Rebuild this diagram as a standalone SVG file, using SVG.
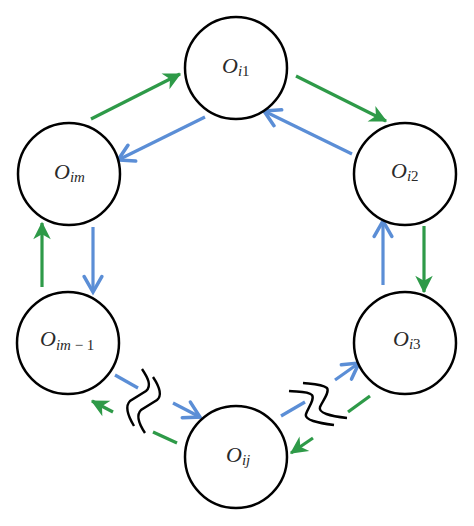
<svg xmlns="http://www.w3.org/2000/svg" width="474" height="526" viewBox="0 0 474 526">
<style>
.node{fill:#fff;stroke:#000;stroke-width:2.5}
.lbl{font-family:"Liberation Serif","DejaVu Serif",serif;font-size:22px;fill:#2a2a2a;font-style:italic}
.sub{font-size:15px}
.up{font-style:normal}
.g{stroke:#2e9a48;stroke-width:3.2;fill:none}
.b{stroke:#5b8ed6;stroke-width:3.2;fill:none}
.brk{stroke:#000;stroke-width:2.4;fill:none}
</style>
<defs>
<marker id="gh" markerUnits="userSpaceOnUse" markerWidth="20" markerHeight="20" viewBox="-14 -8 16 16" refX="0" refY="0" orient="auto">
<path d="M1,0 L-13,-7 L-9,0 L-13,7 Z" fill="#2e9a48"/>
</marker>
<marker id="bh" markerUnits="userSpaceOnUse" markerWidth="22" markerHeight="22" viewBox="-16 -10 20 20" refX="0" refY="0" orient="auto">
<path d="M-14,-8 L0,0 L-14,8" fill="none" stroke="#5b8ed6" stroke-width="3.2" stroke-linecap="round"/>
</marker>
</defs>
<g id="connectors">
<line class="g" x1="91" y1="119" x2="180" y2="74" marker-end="url(#gh)"/>
<line class="g" x1="296" y1="76" x2="386" y2="121" marker-end="url(#gh)"/>
<line class="b" x1="205" y1="117" x2="118" y2="160" marker-end="url(#bh)"/>
<line class="b" x1="352" y1="154" x2="264" y2="111" marker-end="url(#bh)"/>
<line class="g" x1="42" y1="287" x2="42" y2="223" marker-end="url(#gh)"/>
<line class="b" x1="93" y1="227" x2="93" y2="292" marker-end="url(#bh)"/>
<line class="b" x1="383" y1="285" x2="383" y2="221" marker-end="url(#bh)"/>
<line class="g" x1="424" y1="226" x2="424" y2="292" marker-end="url(#gh)"/>
<line class="b" x1="115" y1="375" x2="138" y2="388"/>
<line class="b" x1="173" y1="403" x2="200" y2="417" marker-end="url(#bh)"/>
<line class="g" x1="177" y1="443" x2="153" y2="432"/>
<line class="g" x1="113" y1="412" x2="92" y2="401" marker-end="url(#gh)"/>
<line class="b" x1="281" y1="416" x2="305" y2="402"/>
<line class="b" x1="335" y1="380" x2="359" y2="363" marker-end="url(#bh)"/>
<line class="g" x1="370" y1="396" x2="348" y2="412"/>
<line class="g" x1="313" y1="438" x2="291" y2="453" marker-end="url(#gh)"/>
<path class="brk" d="M142,369 C148,378 152,386 146,391 L130,401 C125,406 128,416 134,426"/>
<path class="brk" d="M153,377 C159,386 163,395 157,400 L141,410 C136,415 139,424 145,433"/>
<path class="brk" d="M303,383 C312,384 322,384 327,388 C330,392 322,402 320,407 C318,413 330,416 347,418"/>
<path class="brk" d="M289,391 C298,392 308,391 312,395 C315,399 308,408 306,414 C304,420 318,423 334,425"/>
</g>
<g id="n_i1"><circle class="node" cx="236" cy="68" r="51"/><text class="lbl" x="222" y="73">O<tspan class="sub" dy="3">i<tspan class="up">1</tspan></tspan></text></g>
<g id="n_i2"><circle class="node" cx="405" cy="174" r="51"/><text class="lbl" x="391" y="178">O<tspan class="sub" dy="3">i<tspan class="up">2</tspan></tspan></text></g>
<g id="n_i3"><circle class="node" cx="405" cy="343" r="51"/><text class="lbl" x="393" y="346">O<tspan class="sub" dy="3">i<tspan class="up">3</tspan></tspan></text></g>
<g id="n_ij"><circle class="node" cx="236" cy="457" r="51"/><text class="lbl" x="226" y="462">O<tspan class="sub" dy="3">ij</tspan></text></g>
<g id="n_im1"><circle class="node" cx="68" cy="343" r="51"/><text class="lbl" x="40" y="346">O<tspan class="sub" dy="4">im<tspan class="up"> − 1</tspan></tspan></text></g>
<g id="n_im"><circle class="node" cx="69" cy="174" r="51"/><text class="lbl" x="54" y="179">O<tspan class="sub" dy="3">im</tspan></text></g>
</svg>
